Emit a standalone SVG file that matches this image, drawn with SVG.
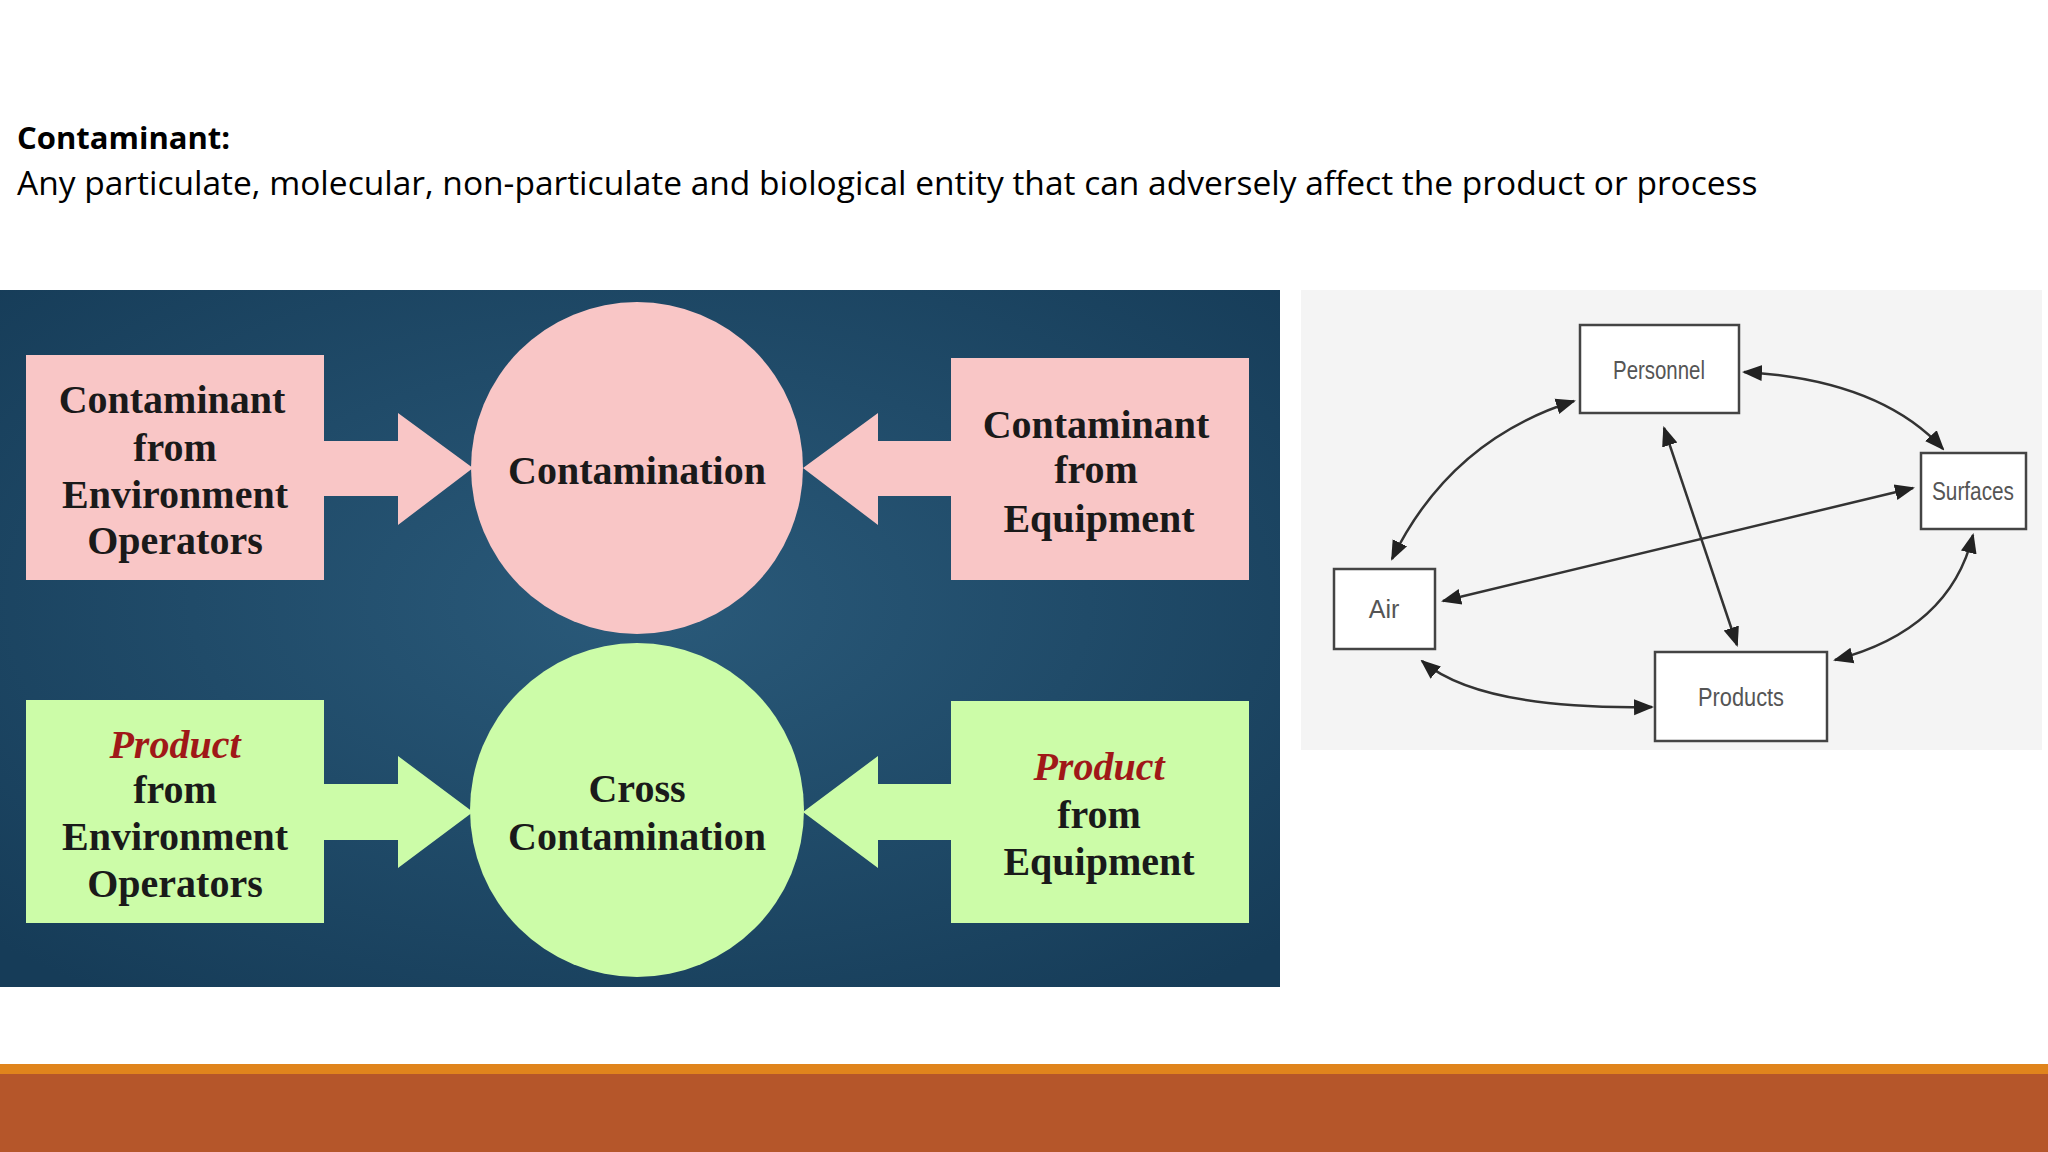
<svg xmlns="http://www.w3.org/2000/svg" width="2048" height="1152" viewBox="0 0 2048 1152">
<defs>
<style>
.h{font-family:"Liberation Serif",serif;font-weight:bold;font-size:40px;fill:#1a1a1a;text-anchor:middle}
.r{fill:#a01818;font-style:italic}
.s{font-family:"Liberation Sans Narrow","Liberation Sans",sans-serif;font-size:25px;fill:#555;text-anchor:middle}
.bx{fill:#fff;stroke:#444;stroke-width:2.5}
.cn{fill:none;stroke:#333;stroke-width:2.5;marker-start:url(#a);marker-end:url(#a)}
</style>
<marker id="a" viewBox="0 0 10 10" refX="9" refY="5" markerWidth="8" markerHeight="8" orient="auto-start-reverse"><path d="M0,1 L10,5 L0,9 z" fill="#222"/></marker>
<radialGradient id="bg" cx="50%" cy="45%" r="70%"><stop offset="0" stop-color="#2a5a7a"/><stop offset="1" stop-color="#163c58"/></radialGradient>
</defs>
<rect width="2048" height="1152" fill="#fff"/>
<text x="17" y="149" font-family="'Open Sans','Noto Sans',sans-serif" font-size="31" font-weight="bold" fill="#000">Contaminant:</text>
<text x="17" y="195" font-family="'Open Sans','Noto Sans',sans-serif" font-size="33.5" fill="#000">Any particulate, molecular, non-particulate and biological entity that can adversely affect the product or process</text>
<rect x="0" y="290" width="1280" height="697" fill="url(#bg)"/>
<g id="pinkL"><rect x="26" y="355" width="298" height="225" fill="#f9c6c6"/><text class="h"><tspan x="172" y="413">Contaminant</tspan><tspan x="175" y="461">from</tspan><tspan x="175" y="508">Environment</tspan><tspan x="175" y="554">Operators</tspan></text></g>
<g id="contam"><circle cx="637" cy="468" r="166" fill="#f9c6c6"/><text class="h" x="637" y="484">Contamination</text></g>
<g id="pinkR"><rect x="951" y="358" width="298" height="222" fill="#f9c6c6"/><text class="h"><tspan x="1096" y="438">Contaminant</tspan><tspan x="1096" y="483">from</tspan><tspan x="1099" y="532">Equipment</tspan></text></g>
<g id="greenL"><rect x="26" y="700" width="298" height="223" fill="#ccfca8"/><text class="h"><tspan class="r" x="175" y="758">Product</tspan><tspan x="175" y="803">from</tspan><tspan x="175" y="850">Environment</tspan><tspan x="175" y="897">Operators</tspan></text></g>
<g id="cross"><circle cx="637" cy="810" r="167" fill="#ccfca8"/><text class="h"><tspan x="637" y="802">Cross</tspan><tspan x="637" y="850">Contamination</tspan></text></g>
<g id="greenR"><rect x="951" y="701" width="298" height="222" fill="#ccfca8"/><text class="h"><tspan class="r" x="1099" y="780">Product</tspan><tspan x="1099" y="828">from</tspan><tspan x="1099" y="875">Equipment</tspan></text></g>
<g id="bigarrows">
<polygon points="324,441 398,441 398,413 473,468 398,525 398,496 324,496" fill="#f9c6c6"/>
<polygon points="951,441 878,441 878,413 803,468 878,525 878,496 951,496" fill="#f9c6c6"/>
<polygon points="324,784 398,784 398,756 473,812 398,868 398,840 324,840" fill="#ccfca8"/>
<polygon points="951,784 878,784 878,756 803,812 878,868 878,840 951,840" fill="#ccfca8"/>
</g>
<rect x="1301" y="290" width="741" height="460" fill="#f4f4f4"/>
<g id="personnel"><rect class="bx" x="1580" y="325" width="159" height="88"/><text class="s" x="1659" y="379" textLength="92" lengthAdjust="spacingAndGlyphs">Personnel</text></g>
<g id="surfaces"><rect class="bx" x="1921" y="453" width="105" height="76"/><text class="s" x="1973" y="500" textLength="82" lengthAdjust="spacingAndGlyphs">Surfaces</text></g>
<g id="air"><rect class="bx" x="1334" y="569" width="101" height="80"/><text class="s" x="1384" y="618">Air</text></g>
<g id="products"><rect class="bx" x="1655" y="652" width="172" height="89"/><text class="s" x="1741" y="706" textLength="86" lengthAdjust="spacingAndGlyphs">Products</text></g>
<g id="connectors">
<path class="cn" d="M1574,401 Q1450,440 1392,559"/>
<path class="cn" d="M1744,372 Q1880,380 1943,449"/>
<path class="cn" d="M1973,535 Q1950,630 1835,660"/>
<path class="cn" d="M1422,661 Q1480,710 1652,707"/>
<path class="cn" d="M1664,428 L1737,645"/>
<path class="cn" d="M1443,601 L1913,488"/>
</g>
<rect x="0" y="1064" width="2048" height="10" fill="#e0841c"/>
<rect x="0" y="1074" width="2048" height="78" fill="#b5562a"/>
</svg>
